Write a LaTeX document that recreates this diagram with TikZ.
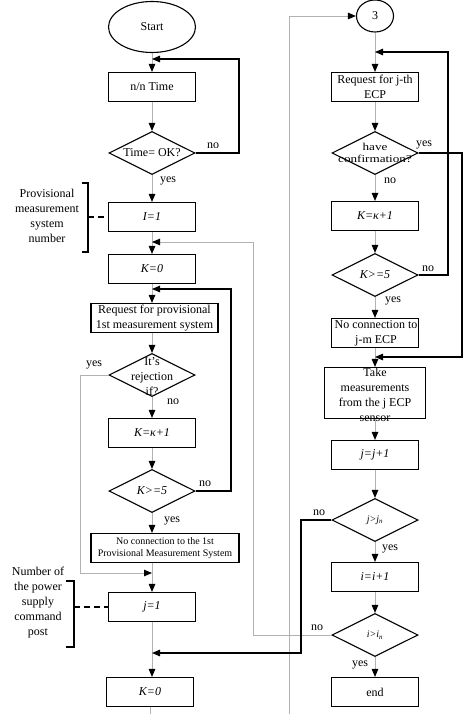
\documentclass[tikz,border=0pt]{standalone}
\usepackage{fontspec}
\usepackage{graphicx}
\setmainfont{Liberation Serif}
\usetikzlibrary{shapes.geometric,arrows.meta}
\begin{document}
\begin{tikzpicture}[x=1pt,y=-1pt,
  every node/.style={font=\fontsize{12}{15}\selectfont},
  box/.style={draw,line width=1.1pt,minimum width=87pt,minimum height=29pt,inner sep=1pt,align=center},
  dia/.style={draw,diamond,line width=1.1pt,minimum width=86pt,minimum height=43pt,inner sep=0pt},
  txt/.style={align=center,inner sep=0pt},
  small/.style={font=\fontsize{10}{12}\selectfont},
  lbl/.style={inner sep=0pt},
  flow/.style={draw=gray!60,line width=0.9pt,-{Triangle[length=8pt,width=6.5pt,color=black]}},
  back/.style={draw=black,line width=1.1pt,-{Triangle[length=8pt,width=6.5pt]}},
  greyback/.style={draw=gray!60,line width=0.9pt,-{Triangle[length=8pt,width=6.5pt,color=black]}},
  bracket/.style={draw=black,line width=1.1pt},
  dashline/.style={draw=black,line width=1.1pt,dash pattern=on 6pt off 4pt}]
\useasboundingbox (0,0) rectangle (474,714);

% ---------------- left column ----------------
\node[draw,ellipse,line width=1.1pt,minimum width=87pt,minimum height=51pt] (start) at (152,27) {Start};
\node[box] (t1) at (152,87) {n/n Time};
\node[dia] (d1) at (152,153) {};
\node[txt] (d1t) at (152,153) {Time= OK?};
\node[box] (i1) at (152,217) {\textit{I=1}};
\node[box] (k0a) at (152,269) {\textit{K=0}};
\node[box,minimum width=127pt] (req1) at (154.5,318) {Request for provisional\\1st measurement system};
\node[dia] (d2) at (152,375) {};
\node[txt] (d2t) at (152,377) {It's\\rejection\\if?};
\node[box] (kk1) at (152,433) {\textit{K=κ+1}};
\node[dia] (d3) at (152,491) {};
\node[txt] (d3t) at (152,491) {\textit{K>=5}};
\node[box,minimum width=148pt,small] (nc1) at (165,548) {No connection to the 1st\\Provisional Measurement System};
\node[box] (j1) at (152,607) {\textit{j=1}};
\node[box] (k0b) at (150,692) {\textit{K=0}};

% brackets
\node[txt] (lab1) at (47,215.5) {Provisional\\measurement\\system\\number};
\draw[bracket] (82,183) -- (88,183) -- (88,252) -- (82,252);
\coordinate (b1) at (88,217);
\draw[dashline] (b1) -- (i1.west);
\node[txt] (lab2) at (38,603) {Number of\\the power\\supply\\command\\post};
\draw[bracket] (66,581) -- (74,581) -- (74,647) -- (66,647);
\coordinate (b2) at (74,607);
\draw[dashline] (b2) -- (j1.west);

% ---------------- right column ----------------
\node[draw,ellipse,line width=1.1pt,minimum width=37pt,minimum height=32pt,inner sep=0pt] (c3) at (375,16) {3};
\node[box] (reqj) at (375,87) {Request for j-th\\ECP};
\node[dia] (d4) at (375,153) {};
\node[txt,font=\fontsize{10.5}{12.5}\selectfont] (d4t) at (375,153) {\scalebox{1.25}[1]{have}\\\scalebox{1.25}[1]{confirmation?}};
\node[box] (kk2) at (375,216) {\textit{K=κ+1}};
\node[dia] (d5) at (375,275) {};
\node[txt] (d5t) at (375,275) {\textit{K>=5}};
\node[box] (nc2) at (375,333) {};
\node[txt] (nc2t) at (376,333) {No connection to\\j-m ECP};
\node[box,minimum width=101pt,minimum height=51pt] (tm) at (375,393) {};
\node[txt] (tmt) at (375,395) {Take\\measurements\\from the j ECP\\sensor};
\node[box] (jj) at (375,455) {\textit{j=j+1}};
\node[dia] (d6) at (375,520) {};
\node[txt,small] (d6t) at (375,520) {\textit{j>j\textsubscript{n}}};
\node[box] (ii) at (375,577) {\textit{i=i+1}};
\node[dia] (d7) at (375,635) {};
\node[txt,small] (d7t) at (375,635) {\textit{i>i\textsubscript{n}}};
\node[box] (end) at (375,692) {end};

% ---------------- straight flow ----------------
\draw[flow] (start) -- (t1);
\draw[flow] (t1) -- (d1);
\draw[flow] (d1) -- (i1);
\draw[flow] (i1) -- (k0a);
\draw[flow] (k0a) -- (k0a |- req1.north);
\draw[flow] (req1.south -| d2) -- (d2);
\draw[flow] (d2) -- (kk1);
\draw[flow] (kk1) -- (d3);
\draw[flow] (d3) -- (d3 |- nc1.north);
\draw[flow] (nc1.south -| j1) -- (j1);
\draw[flow] (j1.south) -- (j1.south |- k0b.north);
\coordinate (bot1) at (150,714);
\draw[draw=gray!60,line width=0.9pt] (k0b) -- (bot1);
\coordinate (bot2) at (289,714);
\draw[greyback] (bot2) -- (289,16) -- (c3.west);

\draw[flow] (c3) -- (reqj);
\draw[flow] (reqj) -- (d4);
\draw[flow] (d4) -- (kk2);
\draw[flow] (kk2) -- (d5);
\draw[flow] (d5) -- (nc2);
\draw[flow] (nc2) -- (tm);
\draw[flow] (tm) -- (jj);
\draw[flow] (jj) -- (d6);
\draw[flow] (d6) -- (ii);
\draw[flow] (ii) -- (d7);
\draw[flow] (d7) -- (end);

% ---------------- loops ----------------
\coordinate (m1) at (152,59);
\draw[back] (d1.east) -- (239,153) -- (239,59) -- (m1);
\coordinate (m2) at (152,289);
\draw[back] (d3.east) -- (231,491) -- (231,289) -- (m2);
\coordinate (m3) at (152,573);
\draw[greyback] (d2.west) -- (80,375) -- (80,573) -- (m3);
\coordinate (m4) at (152,242);
\draw[greyback] (d7.west) -- (253,635) -- (253,242) -- (m4);
\coordinate (m5) at (152,653);
\draw[back] (d6.west) -- (301,520) -- (301,653) -- (m5);
\coordinate (m6) at (375,52);
\draw[back] (d5.east) -- (448,275) -- (448,52) -- (m6);
\coordinate (m7) at (375,357);
\draw[back] (d4.east) -- (462,153) -- (462,357) -- (m7);

% ---------------- yes / no labels ----------------
\node[lbl] (l1n) at (213,146) {no};
\node[lbl] (l1y) at (168,181) {yes};
\node[lbl] (l2y) at (94,365) {yes};
\node[lbl] (l2n) at (173,402) {no};
\node[lbl] (l3n) at (205,484) {no};
\node[lbl] (l3y) at (172,521) {yes};
\node[lbl] (l4y) at (424,145) {yes};
\node[lbl] (l4n) at (390,181) {no};
\node[lbl] (l5n) at (428,269) {no};
\node[lbl] (l5y) at (393,301) {yes};
\node[lbl] (l6n) at (319,513) {no};
\node[lbl] (l6y) at (390,549) {yes};
\node[lbl] (l7n) at (317,628) {no};
\node[lbl] (l7y) at (360,665) {yes};
\end{tikzpicture}
\end{document}
